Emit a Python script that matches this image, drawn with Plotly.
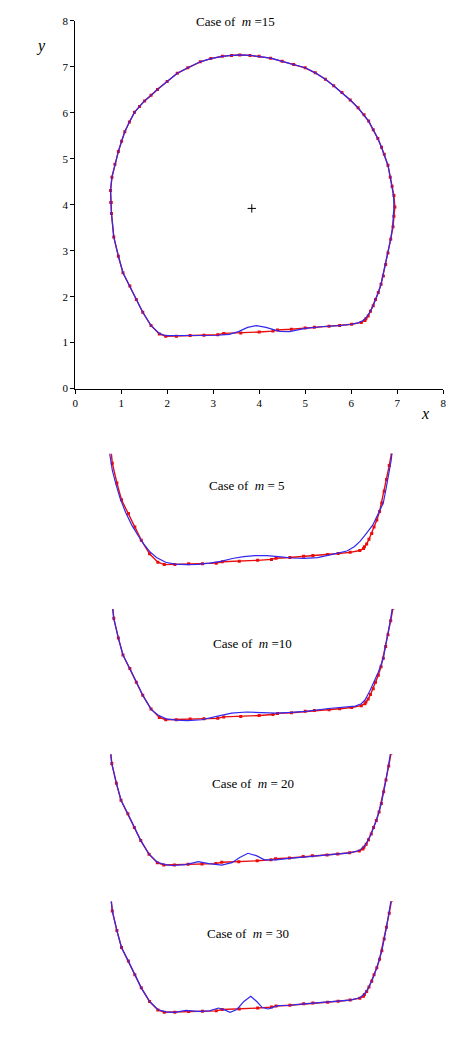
import plotly.graph_objects as go

# measured contour points (red), going round the section
red_x = [0.78, 0.77, 0.80, 0.865, 0.94, 1.01, 1.08, 1.18, 1.29, 1.40, 1.51, 1.65, 1.79, 2.00, 2.22,
         2.45, 2.72, 2.95, 3.20, 3.40, 3.58, 3.80, 4.00, 4.25, 4.50, 4.75, 5.00, 5.22, 5.44, 5.62,
         5.80, 5.98, 6.15, 6.28, 6.38, 6.48, 6.58, 6.66, 6.72, 6.80, 6.85, 6.89, 6.93, 6.95, 6.93,
         6.91, 6.86, 6.80, 6.75, 6.70, 6.65, 6.59, 6.53, 6.48, 6.42, 6.37, 6.32, 6.30, 6.22, 6.01,
         5.75, 5.52, 5.20, 5.00, 4.70, 4.40, 4.30, 4.00, 3.60, 3.23, 3.10, 2.80, 2.50, 2.20, 1.97,
         1.83, 1.65, 1.47, 1.33, 1.19, 1.04, 0.94, 0.84, 0.79, 0.78]
red_y = [4.05, 4.31, 4.60, 4.88, 5.16, 5.38, 5.59, 5.80, 6.01, 6.14, 6.26, 6.38, 6.51, 6.68, 6.86,
         6.98, 7.11, 7.18, 7.23, 7.25, 7.26, 7.25, 7.23, 7.19, 7.12, 7.05, 6.98, 6.87, 6.73, 6.59,
         6.44, 6.28, 6.11, 5.96, 5.82, 5.63, 5.44, 5.25, 5.10, 4.86, 4.60, 4.40, 4.20, 3.95, 3.75,
         3.52, 3.25, 2.95, 2.70, 2.45, 2.27, 2.09, 1.94, 1.80, 1.68, 1.58, 1.52, 1.48, 1.44, 1.40,
         1.375, 1.355, 1.335, 1.32, 1.29, 1.275, 1.25, 1.23, 1.21, 1.20, 1.17, 1.16, 1.155, 1.14, 1.14,
         1.19, 1.37, 1.66, 1.94, 2.23, 2.52, 2.88, 3.30, 3.81, 4.05]

# fitted contour, m = 15 (blue)
fit15_x = [0.78, 0.77, 0.80, 0.865, 0.94, 1.01, 1.08, 1.18, 1.29, 1.40, 1.51, 1.65, 1.79, 2.00, 2.22,
           2.45, 2.72, 2.95, 3.20, 3.40, 3.58, 3.80, 4.00, 4.25, 4.50, 4.75, 5.00, 5.22, 5.44, 5.62,
           5.80, 5.98, 6.15, 6.28, 6.38, 6.48, 6.58, 6.66, 6.72, 6.80, 6.85, 6.89, 6.92, 6.93, 6.92,
           6.90, 6.86, 6.80, 6.75, 6.70, 6.65, 6.59, 6.53, 6.48, 6.41, 6.34, 6.26, 6.15, 6.01, 5.75,
           5.40, 5.00, 4.66, 4.45, 4.35, 4.15, 3.94, 3.75, 3.55, 3.35, 3.10, 2.80, 2.50, 2.20, 1.97,
           1.83, 1.65, 1.47, 1.33, 1.19, 1.04, 0.94, 0.84, 0.79, 0.78]
fit15_y = [4.05, 4.31, 4.60, 4.88, 5.16, 5.38, 5.59, 5.80, 6.01, 6.14, 6.26, 6.38, 6.51, 6.68, 6.86,
           6.98, 7.11, 7.18, 7.23, 7.25, 7.26, 7.25, 7.23, 7.19, 7.12, 7.05, 6.98, 6.87, 6.73, 6.59,
           6.44, 6.28, 6.11, 5.96, 5.82, 5.63, 5.44, 5.25, 5.10, 4.86, 4.60, 4.40, 4.20, 3.95, 3.75,
           3.52, 3.25, 2.95, 2.70, 2.45, 2.27, 2.09, 1.94, 1.80, 1.67, 1.56, 1.48, 1.43, 1.40, 1.37,
           1.35, 1.31, 1.24, 1.245, 1.27, 1.33, 1.37, 1.33, 1.24, 1.18, 1.16, 1.155, 1.155, 1.14, 1.15,
           1.20, 1.37, 1.66, 1.94, 2.23, 2.52, 2.88, 3.30, 3.81, 4.05]

# lower part of the fitted contour for the other m values
fit5_x = [0.76, 0.79, 0.84, 0.92, 1.01, 1.13, 1.27, 1.40, 1.52, 1.65, 1.80, 2.00, 2.20, 2.45, 2.70,
          2.95, 3.20, 3.45, 3.70, 3.94, 4.20, 4.45, 4.75, 5.01, 5.30, 5.55, 5.80, 5.94, 6.10, 6.23,
          6.36, 6.50, 6.61, 6.73, 6.79, 6.85, 6.90, 6.93]
fit5_y = [3.65, 3.45, 3.15, 2.85, 2.55, 2.25, 1.97, 1.76, 1.58, 1.42, 1.29, 1.19, 1.15, 1.14, 1.145,
          1.17, 1.21, 1.27, 1.31, 1.33, 1.33, 1.31, 1.28, 1.27, 1.29, 1.34, 1.40, 1.43, 1.52, 1.64,
          1.80, 1.98, 2.20, 2.45, 2.75, 3.05, 3.35, 3.60]

fit10_x = [0.80, 0.81, 0.84, 0.94, 1.04, 1.19, 1.33, 1.47, 1.65, 1.80, 1.98, 2.20, 2.44, 2.75, 3.08,
           3.40, 3.73, 4.05, 4.37, 4.70, 5.01, 5.51, 5.80, 6.09, 6.22, 6.30, 6.40, 6.50, 6.59, 6.70,
           6.80, 6.86, 6.90, 6.91]
fit10_y = [3.65, 3.55, 3.30, 2.88, 2.52, 2.23, 1.94, 1.66, 1.36, 1.24, 1.16, 1.13, 1.12, 1.14, 1.21,
           1.28, 1.305, 1.29, 1.28, 1.295, 1.32, 1.38, 1.40, 1.43, 1.48, 1.56, 1.74, 1.96, 2.15, 2.45,
           2.95, 3.30, 3.55, 3.65]

fit20_x = [0.80, 0.81, 0.84, 0.94, 1.04, 1.19, 1.33, 1.47, 1.65, 1.83, 2.00, 2.15, 2.45, 2.72, 2.95,
           3.23, 3.45, 3.62, 3.80, 3.98, 4.16, 4.40, 4.70, 5.00, 5.52, 6.01, 6.22, 6.32, 6.37, 6.48,
           6.59, 6.70, 6.80, 6.86, 6.91, 6.92]
fit20_y = [3.65, 3.55, 3.30, 2.88, 2.52, 2.23, 1.94, 1.66, 1.37, 1.20, 1.15, 1.13, 1.15, 1.21, 1.17,
           1.14, 1.19, 1.30, 1.39, 1.34, 1.25, 1.25, 1.28, 1.31, 1.355, 1.40, 1.45, 1.53, 1.60, 1.80,
           2.09, 2.45, 2.95, 3.25, 3.52, 3.65]

fit30_x = [0.80, 0.81, 0.84, 0.94, 1.04, 1.19, 1.33, 1.47, 1.65, 1.83, 2.00, 2.20, 2.44, 2.70, 2.95,
           3.15, 3.28, 3.40, 3.55, 3.70, 3.85, 3.98, 4.10, 4.23, 4.44, 4.70, 5.00, 5.52, 6.01, 6.22,
           6.32, 6.37, 6.48, 6.59, 6.70, 6.80, 6.86, 6.91, 6.92]
fit30_y = [3.65, 3.55, 3.30, 2.88, 2.52, 2.23, 1.94, 1.66, 1.37, 1.20, 1.15, 1.14, 1.18, 1.16, 1.17,
           1.23, 1.19, 1.14, 1.20, 1.37, 1.48, 1.37, 1.24, 1.21, 1.28, 1.29, 1.32, 1.355, 1.40, 1.45,
           1.53, 1.60, 1.80, 2.09, 2.45, 2.95, 3.25, 3.52, 3.65]

centre_x = [3.84]
centre_y = [3.92]

# page has an 8px body margin, so the figure is drawn 8px in from the window edge;
# keep the figure a little smaller than the window so the page never scrolls
OFF = 8
W, H = 450, 1025
RED = "rgb(232,12,12)"
BLUE = "rgb(50,40,240)"
SERIF = "Liberation Serif"


def px_x(p):
    return (p - OFF) / W


def px_y(p):
    return 1 - (p - OFF) / H


fig = go.Figure()


def add_pair(fx, fy, n):
    xa = "x" if n == 1 else f"x{n}"
    ya = "y" if n == 1 else f"y{n}"
    fig.add_trace(go.Scatter(x=red_x, y=red_y, mode="lines+markers", xaxis=xa, yaxis=ya,
                             line=dict(color=RED, width=1.4),
                             marker=dict(color=RED, size=3, symbol="square"),
                             showlegend=False, hoverinfo="skip"))
    fig.add_trace(go.Scatter(x=fx, y=fy, mode="lines", xaxis=xa, yaxis=ya,
                             line=dict(color=BLUE, width=1.2), showlegend=False))


add_pair(fit15_x, fit15_y, 1)
fig.add_trace(go.Scatter(x=centre_x, y=centre_y, mode="markers",
                         marker=dict(symbol="cross-thin", size=6, line=dict(color="black", width=1)),
                         showlegend=False))

# (fit x, fit y, top pixel of panel, horizontal nudge)
panels = [(fit5_x, fit5_y, 453, -1.5), (fit10_x, fit10_y, 610, 0),
          (fit20_x, fit20_y, 757, -2), (fit30_x, fit30_y, 906, -1.5)]

axis_font = dict(family=SERIF, size=11, color="black")
fig.update_layout(
    width=W, height=H, margin=dict(l=0, r=0, t=0, b=0),
    paper_bgcolor="white", plot_bgcolor="white",
    xaxis=dict(domain=[px_x(73), px_x(446)], range=[0, 8], dtick=1, showgrid=False, zeroline=False,
               showline=True, linecolor="black", linewidth=1, ticks="outside", ticklen=4,
               tickcolor="black", tickfont=axis_font, anchor="y"),
    yaxis=dict(domain=[px_y(387), px_y(15)], range=[0, 8], dtick=1, showgrid=False,
               zeroline=False, showline=True, linecolor="black", linewidth=1, ticks="outside",
               ticklen=4, tickcolor="black", tickfont=axis_font, anchor="x"),
)

# lower panels: same x scale, slightly taller y scale, cut at y = 3.5
ylo, yhi, yscale = 0.9, 3.5, 47.5
ph = (yhi - ylo) * yscale
for i, (fx, fy, top, dx) in enumerate(panels, start=2):
    add_pair(fx, fy, i)
    fig.update_layout({
        f"xaxis{i}": dict(domain=[px_x(73 + dx), px_x(446 + dx)], range=[0, 8], visible=False,
                          anchor=f"y{i}"),
        f"yaxis{i}": dict(domain=[px_y(top + ph), px_y(top)], range=[ylo, yhi],
                          visible=False, anchor=f"x{i}"),
    })

titles = [("Case of  <i>m</i> =15", 236, 16), ("Case of  <i>m</i> = 5", 247, 485),
          ("Case of  <i>m</i> =10", 253, 645), ("Case of  <i>m</i> = 20", 253, 787),
          ("Case of  <i>m</i> = 30", 248, 938)]
for text, tx, ty in titles:
    fig.add_annotation(x=px_x(tx), y=px_y(ty), xref="paper", yref="paper", text=text,
                       xanchor="center", yanchor="middle", showarrow=False,
                       font=dict(family=SERIF, size=13, color="black"))

fig.add_annotation(x=px_x(38), y=px_y(40), xref="paper", yref="paper", text="<i>y</i>",
                   xanchor="center", yanchor="middle", showarrow=False,
                   font=dict(family=SERIF, size=16, color="black"))
fig.add_annotation(x=px_x(428), y=px_y(412), xref="paper", yref="paper", text="<i>x</i>",
                   xanchor="center", yanchor="middle", showarrow=False,
                   font=dict(family=SERIF, size=16, color="black"))

fig.write_html("out.html")
